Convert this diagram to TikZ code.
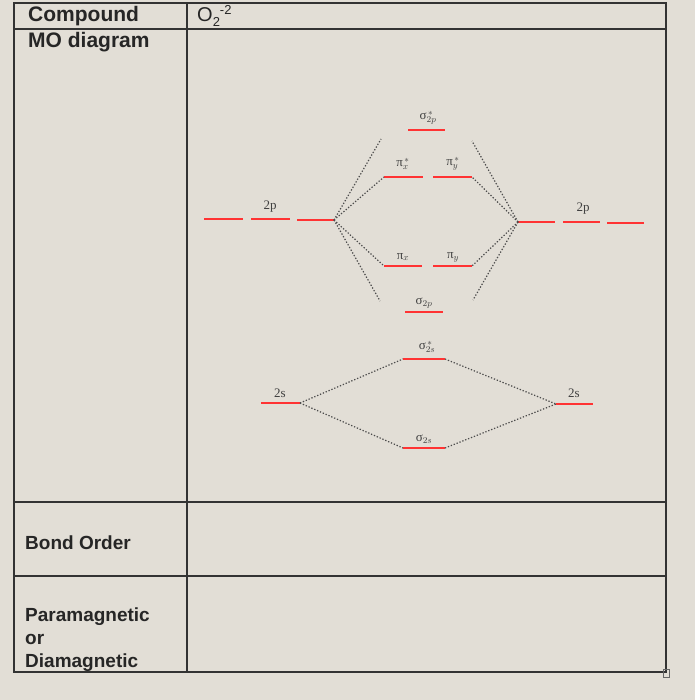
\documentclass[tikz,border=0pt]{standalone}
\usepackage{fontspec}
\setmainfont{Liberation Sans}
\newfontfamily\mofont{Liberation Serif}
\definecolor{paper}{HTML}{E2DED6}
\begin{document}
\begin{tikzpicture}[x=1pt,y=-1pt,
  lvl/.style={draw=red!80!white, line width=1.3pt},
  dot/.style={draw=black!70, dash pattern=on 1.3pt off 1.8pt, line width=1.2pt},
  tbl/.style={draw=black!80, line width=1.4pt},
  hd/.style={font=\bfseries\fontsize{21}{23}\selectfont, text=black!85, anchor=west, align=left, inner sep=0pt},
  ml/.style={font=\mofont\fontsize{13}{14}\selectfont, text=black!75, inner sep=1pt}]
\fill[paper] (0,0) rectangle (695,700);
\useasboundingbox (0,0) rectangle (695,700);
% table
\draw[tbl] (14,3) rectangle (666,672);
\draw[tbl] (187,3) -- (187,672);
\draw[tbl] (14,29) -- (666,29);
\draw[tbl] (14,502) -- (666,502);
\draw[tbl] (14,576) -- (666,576);
\draw[black!60, line width=0.6pt] (663,669) rectangle (669,677);
\node[hd] (c1) at (28,16) {Compound};
\node[hd] (c2) at (28,42) {MO diagram};
\node[hd, font=\fontsize{20}{22}\selectfont] (o2) at (197,16) {O\raisebox{-5pt}{\fontsize{13}{14}\selectfont 2}\raisebox{7pt}{\fontsize{13}{14}\selectfont -2}};
\node[hd, font=\bfseries\fontsize{19}{22}\selectfont] (bo) at (25,543) {Bond Order};
\node[hd, font=\bfseries\fontsize{19}{23}\selectfont] (pm) at (25,640) {Paramagnetic\\or\\Diamagnetic};
% levels
\coordinate (L1a) at (204,219); \coordinate (L1b) at (243,219);
\coordinate (L2a) at (251,219); \coordinate (L2b) at (290,219);
\coordinate (L3a) at (297,220); \coordinate (L3b) at (334,220);
\coordinate (R1a) at (518,222); \coordinate (R1b) at (555,222);
\coordinate (R2a) at (563,222); \coordinate (R2b) at (600,222);
\coordinate (R3a) at (607,223); \coordinate (R3b) at (644,223);
\draw[lvl] (L1a)--(L1b); \draw[lvl] (L2a)--(L2b); \draw[lvl] (L3a)--(L3b);
\draw[lvl] (R1a)--(R1b); \draw[lvl] (R2a)--(R2b); \draw[lvl] (R3a)--(R3b);
\node[ml] (l2p) at (270,207) {2p};
\node[ml] (r2p) at (583,209) {2p};
\coordinate (SPa) at (408,130); \coordinate (SPb) at (445,130);
\draw[lvl] (SPa)--(SPb); \node[ml] (lsp) at (428,118) {σ$_{2p}^{\,*}$};
\coordinate (PXsa) at (384,177); \coordinate (PXsb) at (423,177);
\coordinate (PYsa) at (433,177); \coordinate (PYsb) at (472,177);
\draw[lvl] (PXsa)--(PXsb); \draw[lvl] (PYsa)--(PYsb);
\node[ml] (lpxs) at (403,164) {π$_x^{\,*}$};
\node[ml] (lpys) at (453,164) {π$_y^{\,*}$};
\coordinate (PXa) at (384,266); \coordinate (PXb) at (422,266);
\coordinate (PYa) at (433,266); \coordinate (PYb) at (472,266);
\draw[lvl] (PXa)--(PXb); \draw[lvl] (PYa)--(PYb);
\node[ml] (lpx) at (403,257) {π$_x$};
\node[ml] (lpy) at (453,257) {π$_y$};
\coordinate (SBa) at (405,312); \coordinate (SBb) at (443,312);
\draw[lvl] (SBa)--(SBb); \node[ml] (lsb) at (424,303) {σ$_{2p}$};
\coordinate (SSa) at (403,359); \coordinate (SSb) at (445,359);
\draw[lvl] (SSa)--(SSb); \node[ml] (lss) at (427,347) {σ$_{2s}^{\,*}$};
\coordinate (S2a) at (403,448); \coordinate (S2b) at (445,448);
\draw[lvl] (S2a)--(S2b); \node[ml] (ls2) at (424,439) {σ$_{2s}$};
\coordinate (L2sa) at (261,403); \coordinate (L2sb) at (300,403);
\coordinate (R2sa) at (556,404); \coordinate (R2sb) at (593,404);
\draw[lvl] (L2sa)--(L2sb); \draw[lvl] (R2sa)--(R2sb);
\node[ml] (l2s) at (280,393) {2s};
\node[ml] (r2s) at (574,393) {2s};
% dotted connectors
\coordinate (ltop) at (381,139); \coordinate (lbot) at (380,301);
\coordinate (rtop) at (472,141); \coordinate (rbot) at (473,300);
\draw[dot] (L3b)--(ltop); \draw[dot] (L3b)--(PXsa);
\draw[dot] (L3b)--(PXa); \draw[dot] (L3b)--(lbot);
\draw[dot] (R1a)--(rtop); \draw[dot] (R1a)--(PYsb);
\draw[dot] (R1a)--(PYb); \draw[dot] (R1a)--(rbot);
\draw[dot] (L2sb)--(SSa); \draw[dot] (L2sb)--(S2a);
\draw[dot] (SSb)--(R2sa); \draw[dot] (S2b)--(R2sa);
\end{tikzpicture}
\end{document}
